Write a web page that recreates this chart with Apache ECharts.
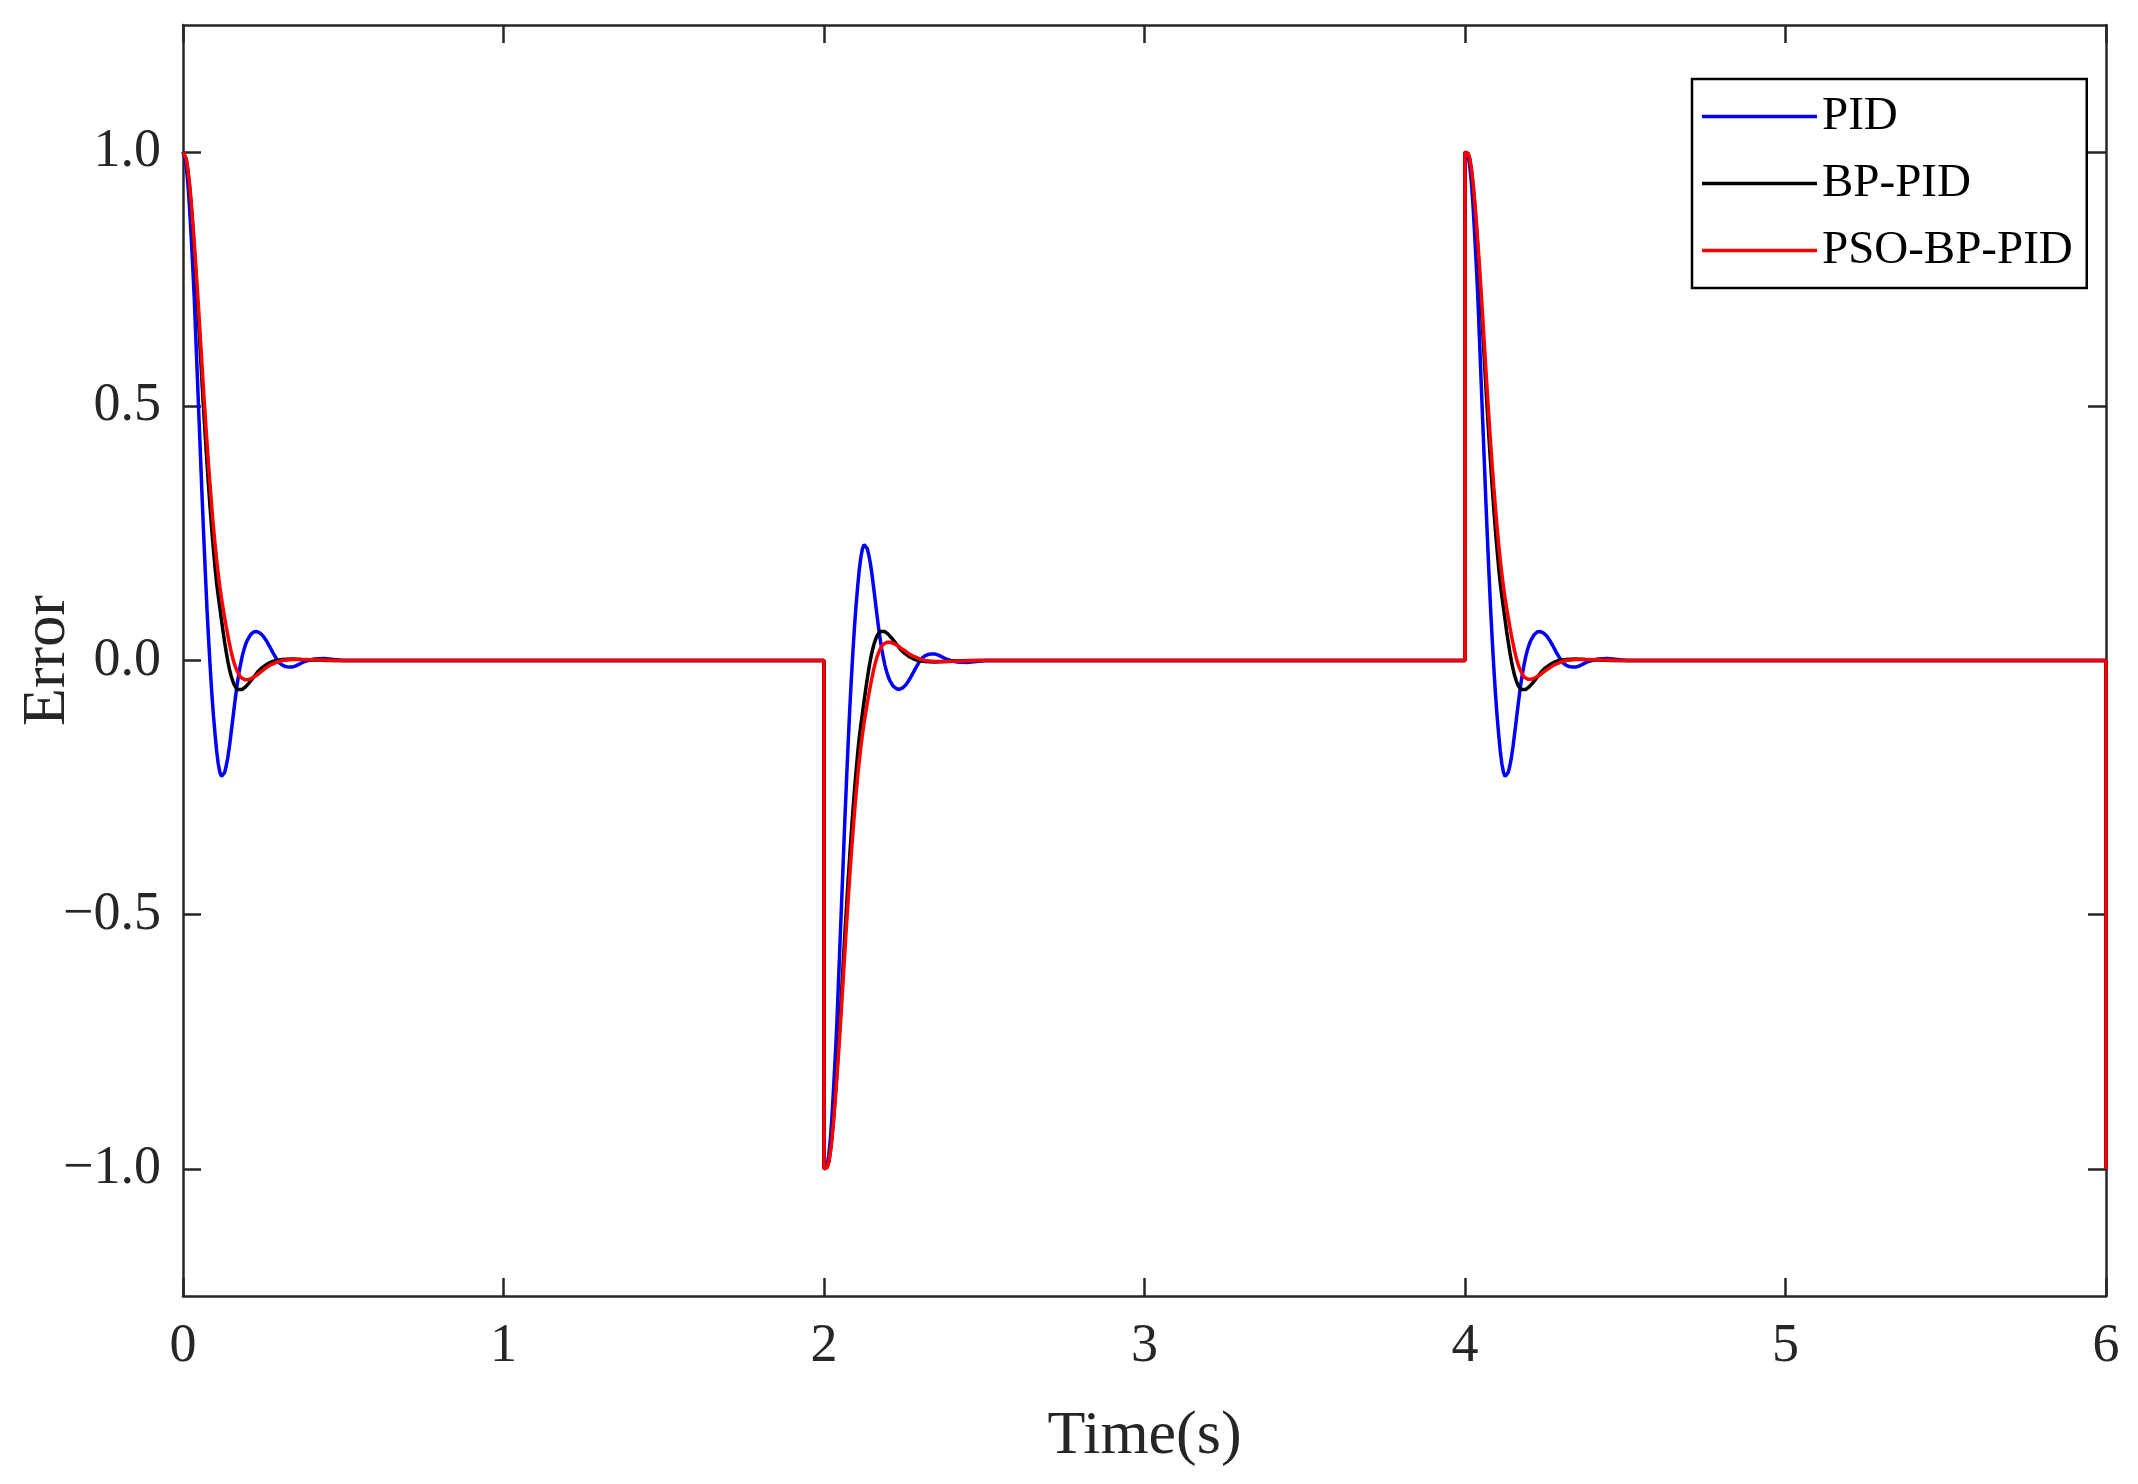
<!DOCTYPE html>
<html>
<head>
<meta charset="utf-8">
<script src="https://cdn.jsdelivr.net/npm/echarts@6/dist/echarts.min.js"></script>
<style>
html,body{margin:0;padding:0;background:#fff;}
#chart{width:2138px;height:1484px;}
</style>
</head>
<body>
<div id="chart"></div>
<script>
// Tick values
const xTicks = [0, 1, 2, 3, 4, 5, 6];
const yTicks = [-1, -0.5, 0, 0.5, 1];
const seriesNames = ['PID', 'BP-PID', 'PSO-BP-PID'];

// PID (blue) error curve: [time, error]
const pidA = [[0,1],[0.005,0.992],[0.01,0.972],[0.015,0.94],[0.02,0.895],[0.025,0.84],[0.03,0.78],[0.035,0.715],[0.04,0.635],[0.045,0.555],[0.05,0.475],[0.055,0.395],[0.06,0.315],[0.065,0.24],[0.07,0.168],[0.075,0.1],[0.08,0.04],[0.085,-0.015],[0.09,-0.065],[0.095,-0.108],[0.1,-0.145],[0.105,-0.178],[0.11,-0.203],[0.115,-0.22],[0.12,-0.228],[0.125,-0.227],[0.13,-0.22],[0.135,-0.207],[0.14,-0.19],[0.145,-0.168],[0.15,-0.143],[0.155,-0.117],[0.16,-0.091],[0.165,-0.066],[0.17,-0.043],[0.175,-0.023],[0.18,-0.006],[0.185,0.009],[0.19,0.021],[0.195,0.031],[0.2,0.039],[0.21,0.05],[0.22,0.056],[0.23,0.057],[0.24,0.054],[0.25,0.048],[0.26,0.039],[0.27,0.028],[0.28,0.016],[0.29,0.005],[0.3,-0.004],[0.31,-0.009],[0.32,-0.012],[0.33,-0.013],[0.34,-0.013],[0.35,-0.011],[0.36,-0.008],[0.37,-0.005],[0.38,-0.002],[0.39,0],[0.41,0.003],[0.44,0.004],[0.47,0.002],[0.5,0],[2,0]];
const pidB = [[2,-1],[2.005,-1],[2.01,-0.992],[2.015,-0.972],[2.02,-0.94],[2.025,-0.895],[2.03,-0.84],[2.035,-0.78],[2.04,-0.715],[2.045,-0.635],[2.05,-0.555],[2.055,-0.475],[2.06,-0.395],[2.065,-0.315],[2.07,-0.24],[2.075,-0.168],[2.08,-0.1],[2.085,-0.04],[2.09,0.015],[2.095,0.065],[2.1,0.108],[2.105,0.145],[2.11,0.178],[2.115,0.203],[2.12,0.22],[2.125,0.228],[2.13,0.227],[2.135,0.22],[2.14,0.207],[2.145,0.19],[2.15,0.168],[2.155,0.143],[2.16,0.117],[2.165,0.091],[2.17,0.066],[2.175,0.043],[2.18,0.023],[2.185,0.006],[2.19,-0.009],[2.195,-0.021],[2.2,-0.031],[2.205,-0.039],[2.215,-0.05],[2.225,-0.055],[2.235,-0.057],[2.245,-0.054],[2.255,-0.048],[2.265,-0.039],[2.275,-0.028],[2.285,-0.016],[2.295,-0.005],[2.305,0.004],[2.315,0.009],[2.325,0.012],[2.335,0.013],[2.345,0.013],[2.355,0.011],[2.365,0.008],[2.375,0.005],[2.385,0.002],[2.395,0],[2.415,-0.003],[2.445,-0.004],[2.475,-0.002],[2.505,0],[4,0]];
const pidC = [[4,1],[4.005,1],[4.01,0.992],[4.015,0.972],[4.02,0.94],[4.025,0.895],[4.03,0.84],[4.035,0.78],[4.04,0.715],[4.045,0.635],[4.05,0.555],[4.055,0.475],[4.06,0.395],[4.065,0.315],[4.07,0.24],[4.075,0.168],[4.08,0.1],[4.085,0.04],[4.09,-0.015],[4.095,-0.065],[4.1,-0.108],[4.105,-0.145],[4.11,-0.178],[4.115,-0.203],[4.12,-0.22],[4.125,-0.228],[4.13,-0.227],[4.135,-0.22],[4.14,-0.207],[4.145,-0.19],[4.15,-0.168],[4.155,-0.143],[4.16,-0.117],[4.165,-0.091],[4.17,-0.066],[4.175,-0.043],[4.18,-0.023],[4.185,-0.006],[4.19,0.009],[4.195,0.021],[4.2,0.031],[4.205,0.039],[4.215,0.05],[4.225,0.056],[4.235,0.057],[4.245,0.054],[4.255,0.048],[4.265,0.039],[4.275,0.028],[4.285,0.016],[4.295,0.005],[4.305,-0.004],[4.315,-0.009],[4.325,-0.012],[4.335,-0.013],[4.345,-0.013],[4.355,-0.011],[4.365,-0.008],[4.375,-0.005],[4.385,-0.002],[4.395,0],[4.415,0.003],[4.445,0.004],[4.475,0.002],[4.505,0],[6,0],[6,-1]];

// BP-PID (black)
const bpA = [[0,1],[0.005,0.997],[0.01,0.986],[0.015,0.965],[0.02,0.936],[0.025,0.9],[0.03,0.858],[0.035,0.812],[0.04,0.762],[0.045,0.708],[0.05,0.652],[0.055,0.595],[0.06,0.54],[0.065,0.487],[0.07,0.436],[0.075,0.387],[0.08,0.341],[0.085,0.297],[0.09,0.256],[0.095,0.218],[0.1,0.183],[0.105,0.152],[0.11,0.127],[0.115,0.103],[0.12,0.08],[0.125,0.057],[0.13,0.036],[0.135,0.016],[0.14,-0.002],[0.145,-0.017],[0.15,-0.03],[0.155,-0.04],[0.16,-0.048],[0.165,-0.053],[0.17,-0.057],[0.176,-0.058],[0.185,-0.057],[0.195,-0.052],[0.205,-0.045],[0.215,-0.037],[0.225,-0.029],[0.235,-0.021],[0.245,-0.015],[0.26,-0.008],[0.275,-0.003],[0.29,0],[0.31,0.002],[0.34,0.003],[0.37,0.002],[0.41,0.001],[0.45,0],[2,0]];
const bpB = [[2,-1],[2.005,-1],[2.01,-0.997],[2.015,-0.986],[2.02,-0.965],[2.025,-0.936],[2.03,-0.9],[2.035,-0.858],[2.04,-0.812],[2.045,-0.762],[2.05,-0.708],[2.055,-0.652],[2.06,-0.595],[2.065,-0.54],[2.07,-0.487],[2.075,-0.436],[2.08,-0.387],[2.085,-0.341],[2.09,-0.297],[2.095,-0.256],[2.1,-0.218],[2.105,-0.183],[2.11,-0.152],[2.115,-0.127],[2.12,-0.103],[2.125,-0.08],[2.13,-0.057],[2.135,-0.036],[2.14,-0.016],[2.145,0.002],[2.15,0.017],[2.155,0.03],[2.16,0.04],[2.165,0.048],[2.17,0.053],[2.175,0.057],[2.181,0.058],[2.19,0.057],[2.2,0.052],[2.21,0.045],[2.22,0.037],[2.23,0.029],[2.24,0.021],[2.25,0.015],[2.265,0.008],[2.28,0.003],[2.295,0],[2.315,-0.002],[2.345,-0.003],[2.375,-0.002],[2.415,-0.001],[2.455,0],[4,0]];
const bpC = [[4,1],[4.005,1],[4.01,0.997],[4.015,0.986],[4.02,0.965],[4.025,0.936],[4.03,0.9],[4.035,0.858],[4.04,0.812],[4.045,0.762],[4.05,0.708],[4.055,0.652],[4.06,0.595],[4.065,0.54],[4.07,0.487],[4.075,0.436],[4.08,0.387],[4.085,0.341],[4.09,0.297],[4.095,0.256],[4.1,0.218],[4.105,0.183],[4.11,0.152],[4.115,0.127],[4.12,0.103],[4.125,0.08],[4.13,0.057],[4.135,0.036],[4.14,0.016],[4.145,-0.002],[4.15,-0.017],[4.155,-0.03],[4.16,-0.04],[4.165,-0.048],[4.17,-0.053],[4.175,-0.057],[4.181,-0.058],[4.19,-0.057],[4.2,-0.052],[4.21,-0.045],[4.22,-0.037],[4.23,-0.029],[4.24,-0.021],[4.25,-0.015],[4.265,-0.008],[4.28,-0.003],[4.295,0],[4.315,0.002],[4.345,0.003],[4.375,0.002],[4.415,0.001],[4.455,0],[6,0],[6,-1]];

// PSO-BP-PID (red)
const psoA = [[0,1],[0.005,0.997],[0.01,0.987],[0.015,0.967],[0.02,0.94],[0.025,0.905],[0.03,0.865],[0.035,0.822],[0.04,0.776],[0.045,0.728],[0.05,0.678],[0.055,0.626],[0.06,0.574],[0.065,0.523],[0.07,0.474],[0.075,0.427],[0.08,0.382],[0.085,0.34],[0.09,0.3],[0.095,0.263],[0.1,0.229],[0.105,0.198],[0.11,0.17],[0.115,0.145],[0.12,0.123],[0.125,0.103],[0.13,0.084],[0.135,0.066],[0.14,0.049],[0.145,0.033],[0.15,0.018],[0.155,0.005],[0.16,-0.006],[0.165,-0.015],[0.17,-0.022],[0.175,-0.028],[0.18,-0.033],[0.186,-0.036],[0.193,-0.038],[0.2,-0.038],[0.21,-0.036],[0.22,-0.033],[0.23,-0.029],[0.24,-0.024],[0.25,-0.019],[0.26,-0.014],[0.275,-0.008],[0.29,-0.004],[0.31,0],[0.34,0.002],[0.38,0.002],[0.43,0.001],[0.48,0],[2,0]];
const psoB = [[2,-1],[2.005,-1],[2.01,-0.997],[2.015,-0.987],[2.02,-0.967],[2.025,-0.94],[2.03,-0.905],[2.035,-0.865],[2.04,-0.822],[2.045,-0.776],[2.05,-0.728],[2.055,-0.678],[2.06,-0.626],[2.065,-0.574],[2.07,-0.523],[2.075,-0.474],[2.08,-0.427],[2.085,-0.382],[2.09,-0.34],[2.095,-0.3],[2.1,-0.263],[2.105,-0.229],[2.11,-0.198],[2.115,-0.17],[2.12,-0.145],[2.125,-0.123],[2.13,-0.103],[2.135,-0.084],[2.14,-0.066],[2.145,-0.049],[2.15,-0.033],[2.155,-0.018],[2.16,-0.005],[2.165,0.006],[2.17,0.015],[2.175,0.022],[2.18,0.028],[2.185,0.032],[2.191,0.034],[2.198,0.036],[2.205,0.036],[2.215,0.034],[2.225,0.031],[2.235,0.027],[2.245,0.022],[2.255,0.018],[2.265,0.013],[2.28,0.008],[2.295,0.004],[2.315,0],[2.345,-0.002],[2.385,-0.002],[2.435,-0.001],[2.485,0],[4,0]];
const psoC = [[4,1],[4.005,1],[4.01,0.997],[4.015,0.987],[4.02,0.967],[4.025,0.94],[4.03,0.905],[4.035,0.865],[4.04,0.822],[4.045,0.776],[4.05,0.728],[4.055,0.678],[4.06,0.626],[4.065,0.574],[4.07,0.523],[4.075,0.474],[4.08,0.427],[4.085,0.382],[4.09,0.34],[4.095,0.3],[4.1,0.263],[4.105,0.229],[4.11,0.198],[4.115,0.17],[4.12,0.145],[4.125,0.123],[4.13,0.103],[4.135,0.084],[4.14,0.066],[4.145,0.049],[4.15,0.033],[4.155,0.018],[4.16,0.005],[4.165,-0.006],[4.17,-0.015],[4.175,-0.022],[4.18,-0.028],[4.185,-0.033],[4.191,-0.036],[4.198,-0.037],[4.205,-0.037],[4.215,-0.035],[4.225,-0.032],[4.235,-0.028],[4.245,-0.023],[4.255,-0.018],[4.265,-0.014],[4.28,-0.008],[4.295,-0.004],[4.315,0],[4.345,0.002],[4.385,0.002],[4.435,0.001],[4.485,0],[6,0],[6,-1]];

const pid = pidA.concat(pidB, pidC);
const bp = bpA.concat(bpB, bpC);
const pso = psoA.concat(psoB, psoC);

const FONT = 'Liberation Serif';
const AX = '#262626';

function fmtY(v) {
  const s = Math.abs(v).toFixed(1);
  return v < 0 ? '\u2212' + s : s;
}

const chart = echarts.init(document.getElementById('chart'), null, {renderer: 'canvas'});

const baseX = {
  type: 'value', min: 0, max: 6, interval: 1,
  axisLine: {show: true, onZero: false, lineStyle: {color: AX, width: 2.5}},
  axisTick: {show: true, inside: true, length: 18, lineStyle: {color: AX, width: 2.5}},
  splitLine: {show: false}
};
const baseY = {
  type: 'value', min: -1.25, max: 1.25,
  axisLine: {show: true, onZero: false, lineStyle: {color: AX, width: 2.5}},
  axisTick: {show: true, inside: true, length: 18, customValues: yTicks, lineStyle: {color: AX, width: 2.5}},
  splitLine: {show: false}
};

chart.setOption({
  animation: false,
  backgroundColor: '#ffffff',
  grid: {left: 183, right: 32, top: 25, bottom: 188, containLabel: false, outerBoundsMode: 'none'},
  legend: {
    data: seriesNames,
    orient: 'vertical',
    left: 1692, top: 79,
    backgroundColor: '#ffffff',
    borderColor: '#000000', borderWidth: 2.5, borderRadius: 0,
    padding: [14, 14, 14, 10],
    icon: 'rect',
    itemWidth: 115, itemHeight: 3.5, itemGap: 20,
    textStyle: {fontFamily: FONT, fontSize: 47, lineHeight: 47, color: '#000000'}
  },
  xAxis: [
    Object.assign({}, baseX, {
      position: 'bottom',
      axisLabel: {show: true, margin: 24, fontFamily: FONT, fontSize: 54, color: AX,
        formatter: v => xTicks.indexOf(v) >= 0 ? String(v) : ''},
      name: 'Time(s)', nameLocation: 'middle', nameGap: 110, nameMoveOverlap: false,
      nameTextStyle: {fontFamily: FONT, fontSize: 62, color: AX}
    }),
    Object.assign({}, baseX, {position: 'top', axisLabel: {show: false}})
  ],
  yAxis: [
    Object.assign({}, baseY, {
      position: 'left',
      axisLabel: {show: true, margin: 22, fontFamily: FONT, fontSize: 54, color: AX,
        customValues: yTicks, formatter: fmtY},
      name: 'Error', nameLocation: 'middle', nameGap: 104, nameMoveOverlap: false,
      nameTextStyle: {fontFamily: FONT, fontSize: 62, color: AX}
    }),
    Object.assign({}, baseY, {position: 'right', axisLabel: {show: false}})
  ],
  series: [
    {name: seriesNames[0], type: 'line', data: pid, xAxisIndex: 0, yAxisIndex: 0,
     symbol: 'none', lineStyle: {color: '#0000ff', width: 3.5}, itemStyle: {color: '#0000ff'}, z: 2},
    {name: seriesNames[1], type: 'line', data: bp, xAxisIndex: 0, yAxisIndex: 0,
     symbol: 'none', lineStyle: {color: '#000000', width: 3.5}, itemStyle: {color: '#000000'}, z: 3},
    {name: seriesNames[2], type: 'line', data: pso, xAxisIndex: 0, yAxisIndex: 0,
     symbol: 'none', lineStyle: {color: '#ff0000', width: 3.5}, itemStyle: {color: '#ff0000'}, z: 4}
  ]
});
</script>
</body>
</html>
